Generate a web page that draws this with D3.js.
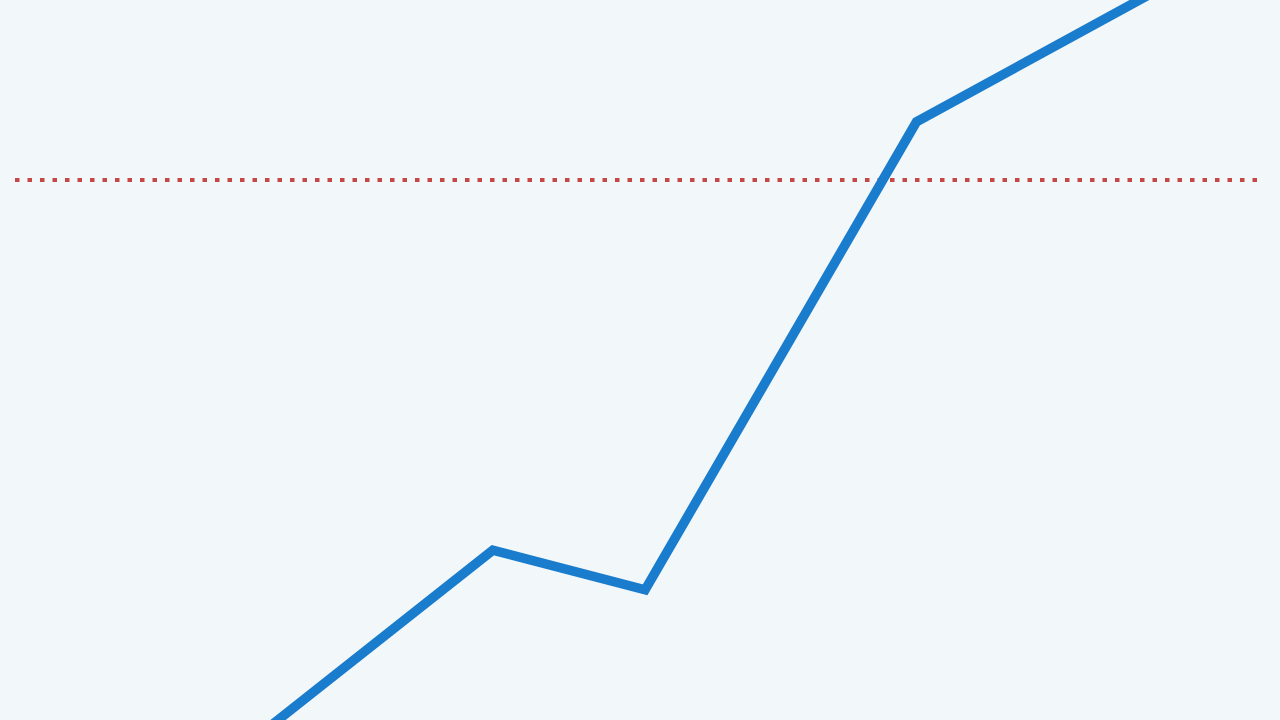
<!DOCTYPE html>
<html>
<head>
<meta charset="utf-8">
<script src="https://cdn.jsdelivr.net/npm/d3@7"></script>
<style>
  html, body { margin: 0; padding: 0; background: #f2f7fa; overflow: hidden; }
</style>
</head>
<body>
<svg id="chart" width="1280" height="720"></svg>
<script>
"use strict";
// series values (x in periods, y in units)
var periods = [2, 3.85, 5.04, 7.16, 10];
var values = [-2.9, 28.3, 21.7, 99.7, 132.8];
// target level drawn as the dotted red line
var threshold = 90;

var width = 1280, height = 720;
var svg = d3.select("#chart");

var x = d3.scaleLinear().domain([0, 10]).range([0, width]);
var y = d3.scaleLinear().domain([0, 120]).range([height, 0]);

// Threshold line
svg.append("line")
    .attr("x1", 15)
    .attr("x2", width - 16)
    .attr("y1", y(threshold))
    .attr("y2", y(threshold))
    .style("stroke", "#c23535")
    .style("stroke-width", 4)
    .style("stroke-dasharray", "4.5,8")
    .style("opacity", 0.9);

// Series line
var line = d3.line()
    .x(function (d, i) { return x(periods[i]); })
    .y(function (d) { return y(d); });

svg.append("path")
    .datum(values)
    .attr("d", line)
    .attr("fill", "none")
    .style("stroke", "#1a7ccc")
    .style("stroke-width", 9.5)
    .style("stroke-linejoin", "miter");
</script>
</body>
</html>
